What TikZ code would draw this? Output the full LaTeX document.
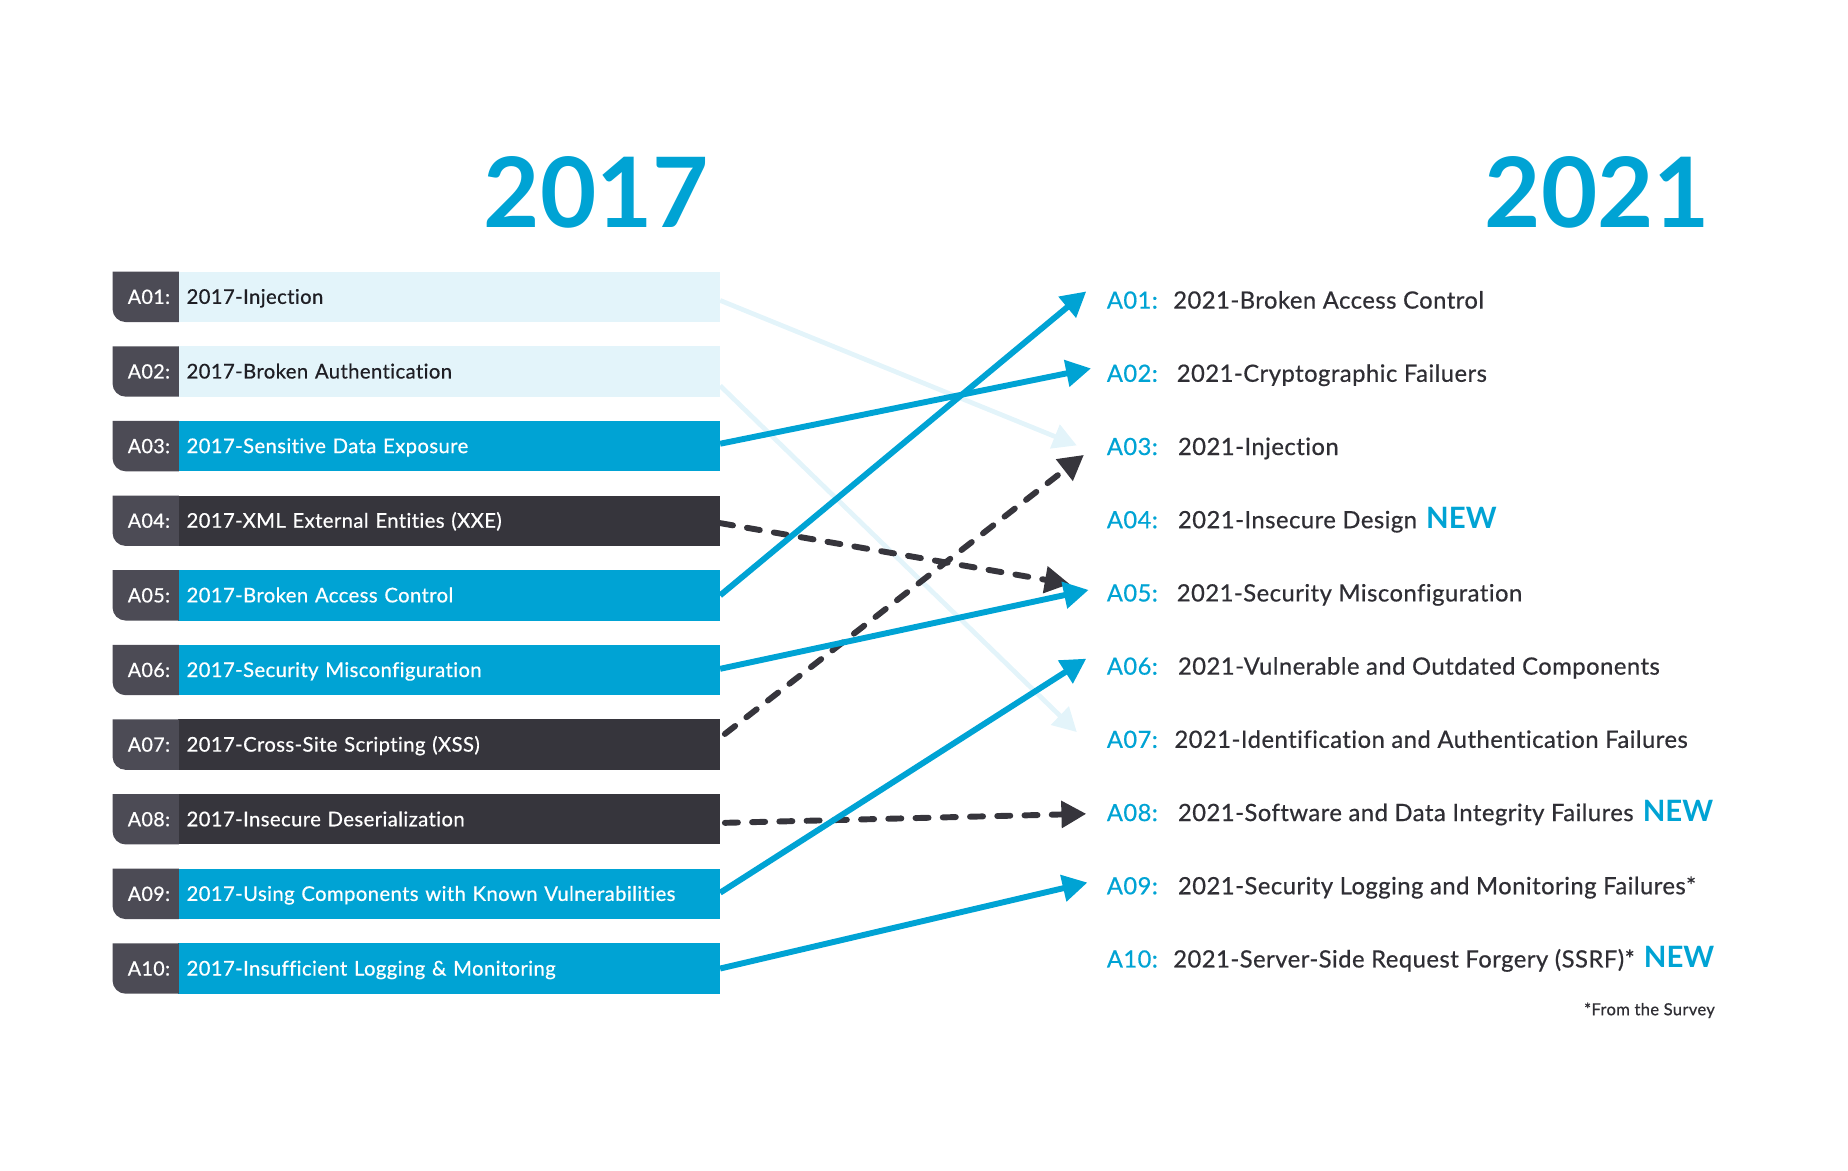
\documentclass[tikz,border=0pt]{standalone}
\usepackage{fontspec}
\setmainfont{Lato}
\newfontfamily\medfont{Lato}[FakeBold=0.6,LetterSpace=2,Ligatures=NoCommon]
\usetikzlibrary{arrows.meta}
\definecolor{cy}{HTML}{00A3D4}
\definecolor{pale}{HTML}{E3F4FA}
\definecolor{dk}{HTML}{36353C}
\definecolor{tabc}{HTML}{4C4B55}
\definecolor{txt}{HTML}{2F2E34}
\definecolor{ltxt}{HTML}{1E1E24}
\begin{document}
\begin{tikzpicture}[x=0.5pt,y=-0.5pt,
  body/.style={minimum width=228.5pt,minimum height=21.25pt,inner sep=0pt,
    text width=221.5pt,align=left,text height=5.9pt,text depth=0pt,
    font=\medfont\fontsize{8.55}{10}\selectfont},
  tablbl/.style={anchor=west,inner sep=0pt,text=white,text height=5.9pt,text depth=0pt,
    font=\medfont\fontsize{8.3}{10}\selectfont},
  rlbl/.style={anchor=base west,inner sep=0pt,text=cy,font=\medfont\fontsize{10}{12}\selectfont},
  rtxt/.style={anchor=base west,inner sep=0pt,text=txt,font=\medfont\fontsize{10.05}{12}\selectfont},
  newlbl/.style={anchor=base west,inner sep=0pt,text=cy,font=\fontsize{12.4}{14}\selectfont\bfseries},
  yeartitle/.style={anchor=base east,inner sep=0pt,text=cy,font=\fontsize{41}{46}\selectfont\bfseries},
  cyarrow/.style={draw=cy,line width=2.5pt,-{Triangle[length=10.5pt,width=11pt]}},
  palearrow/.style={draw=pale,line width=2pt,-{Triangle[length=10pt,width=10.5pt]}},
  dkarrow/.style={draw=dk,line width=2.5pt,dash pattern=on 5.5pt off 6pt,line cap=round,
    -{Triangle[length=10.5pt,width=11pt]}},
]
\useasboundingbox (0,0) rectangle (1560,988);

% titles
\node[yeartitle] (y17) at (599,192) {2017};
\node[yeartitle] (y21) at (1444,192) {2021};

% left boxes
\foreach \k/\fc/\tc/\lbl/\txt in {
  1/pale/ltxt/A01:/2017-Injection,
  2/pale/ltxt/A02:/2017-Broken Authentication,
  3/cy/white/A03:/2017-Sensitive Data Exposure,
  4/dk/white/A04:/2017-XML External Entities (XXE),
  5/cy/white/A05:/2017-Broken Access Control,
  6/cy/white/A06:/2017-Security Misconfiguration,
  7/dk/white/A07:/2017-Cross-Site Scripting (XSS),
  8/dk/white/A08:/2017-Insecure Deserialization,
  9/cy/white/A09:/2017-Using Components with Known Vulnerabilities,
  10/cy/white/A10:/2017-Insufficient Logging \& Monitoring}{
  \pgfmathsetmacro\yc{250.6+63*(\k-1)}
  \pgfmathsetmacro\yt{\yc-21.25}
  \pgfmathsetmacro\yb{\yc+21.25}
  \pgfmathsetmacro\ybr{\yb-11}
  \pgfmathsetmacro\ybc{\yb-5}
  \node[body,fill=\fc,text=\tc] (b\k) at (379,\yc) {\txt};
  \fill[tabc] (151,\yt) -- (95,\yt) -- (95,\ybr) .. controls (95,\ybc) and (100,\yb) .. (106,\yb) -- (151,\yb) -- cycle;
  \node[tablbl] (a\k) at (107.5,\yc) {\lbl};
}

% right list
\foreach \k/\xx/\lbl/\txt in {
  1/990/A01:/2021-Broken Access Control,
  2/993/A02:/2021-Cryptographic Failuers,
  3/994/A03:/2021-Injection,
  4/994/A04:/2021-Insecure Design,
  5/993/A05:/2021-Security Misconfiguration,
  6/994/A06:/2021-Vulnerable and Outdated Components,
  7/991/A07:/2021-Identification and Authentication Failures,
  8/994/A08:/2021-Software and Data Integrity Failures,
  9/994/A09:/2021-Security Logging and Monitoring Failures*,
  10/990/A10:/2021-Server-Side Request Forgery (SSRF)*}{
  \pgfmathsetmacro\yc{253.5+61.8*(\k-1)}
  \pgfmathsetmacro\ybase{\yc+7}
  \node[rlbl] (r\k) at (934,\ybase) {\lbl};
  \node[rtxt] (t\k) at (\xx,\ybase) {\txt};
}
\node[newlbl] (n4) at ([xshift=3.5pt]t4.base east) {NEW};
\node[newlbl] (n8) at ([xshift=3.5pt]t8.base east) {NEW};
\node[newlbl] (n10) at ([xshift=3.5pt]t10.base east) {NEW};

\node[anchor=base east,inner sep=0pt,text=txt,font=\medfont\fontsize{7}{8}\selectfont] (fn) at (1448,857) {*From the Survey};

% arrow targets
\coordinate (c1) at (917,246);
\coordinate (c2) at (921,311);
\coordinate (c3p) at (909,376);
\coordinate (c3d) at (915,384);
\coordinate (c5d) at (903,493);
\coordinate (c5) at (919,498);
\coordinate (c6) at (917,556);
\coordinate (c7p) at (909,618);
\coordinate (c8) at (917,687);
\coordinate (c9) at (918,745);

% connectors
\draw[palearrow] ([yshift=-1.5pt]b1.east) -- (c3p);
\draw[palearrow] ([yshift=-6pt]b2.east) -- (c7p);
\draw[dkarrow] ([yshift=-1pt]b4.east) -- (c5d);
\draw[dkarrow] ([xshift=2pt,yshift=4.5pt]b7.east) -- (c3d);
\draw[dkarrow] ([xshift=2pt,yshift=-1.5pt]b8.east) -- (c8);
\draw[cyarrow] ([yshift=1pt]b3.east) -- (c2);
\draw[cyarrow] (b5.east) -- (c1);
\draw[cyarrow] ([yshift=0.5pt]b6.east) -- (c5);
\draw[cyarrow] ([yshift=0.5pt]b9.east) -- (c6);
\draw[cyarrow] (b10.east) -- (c9);
\end{tikzpicture}
\end{document}
